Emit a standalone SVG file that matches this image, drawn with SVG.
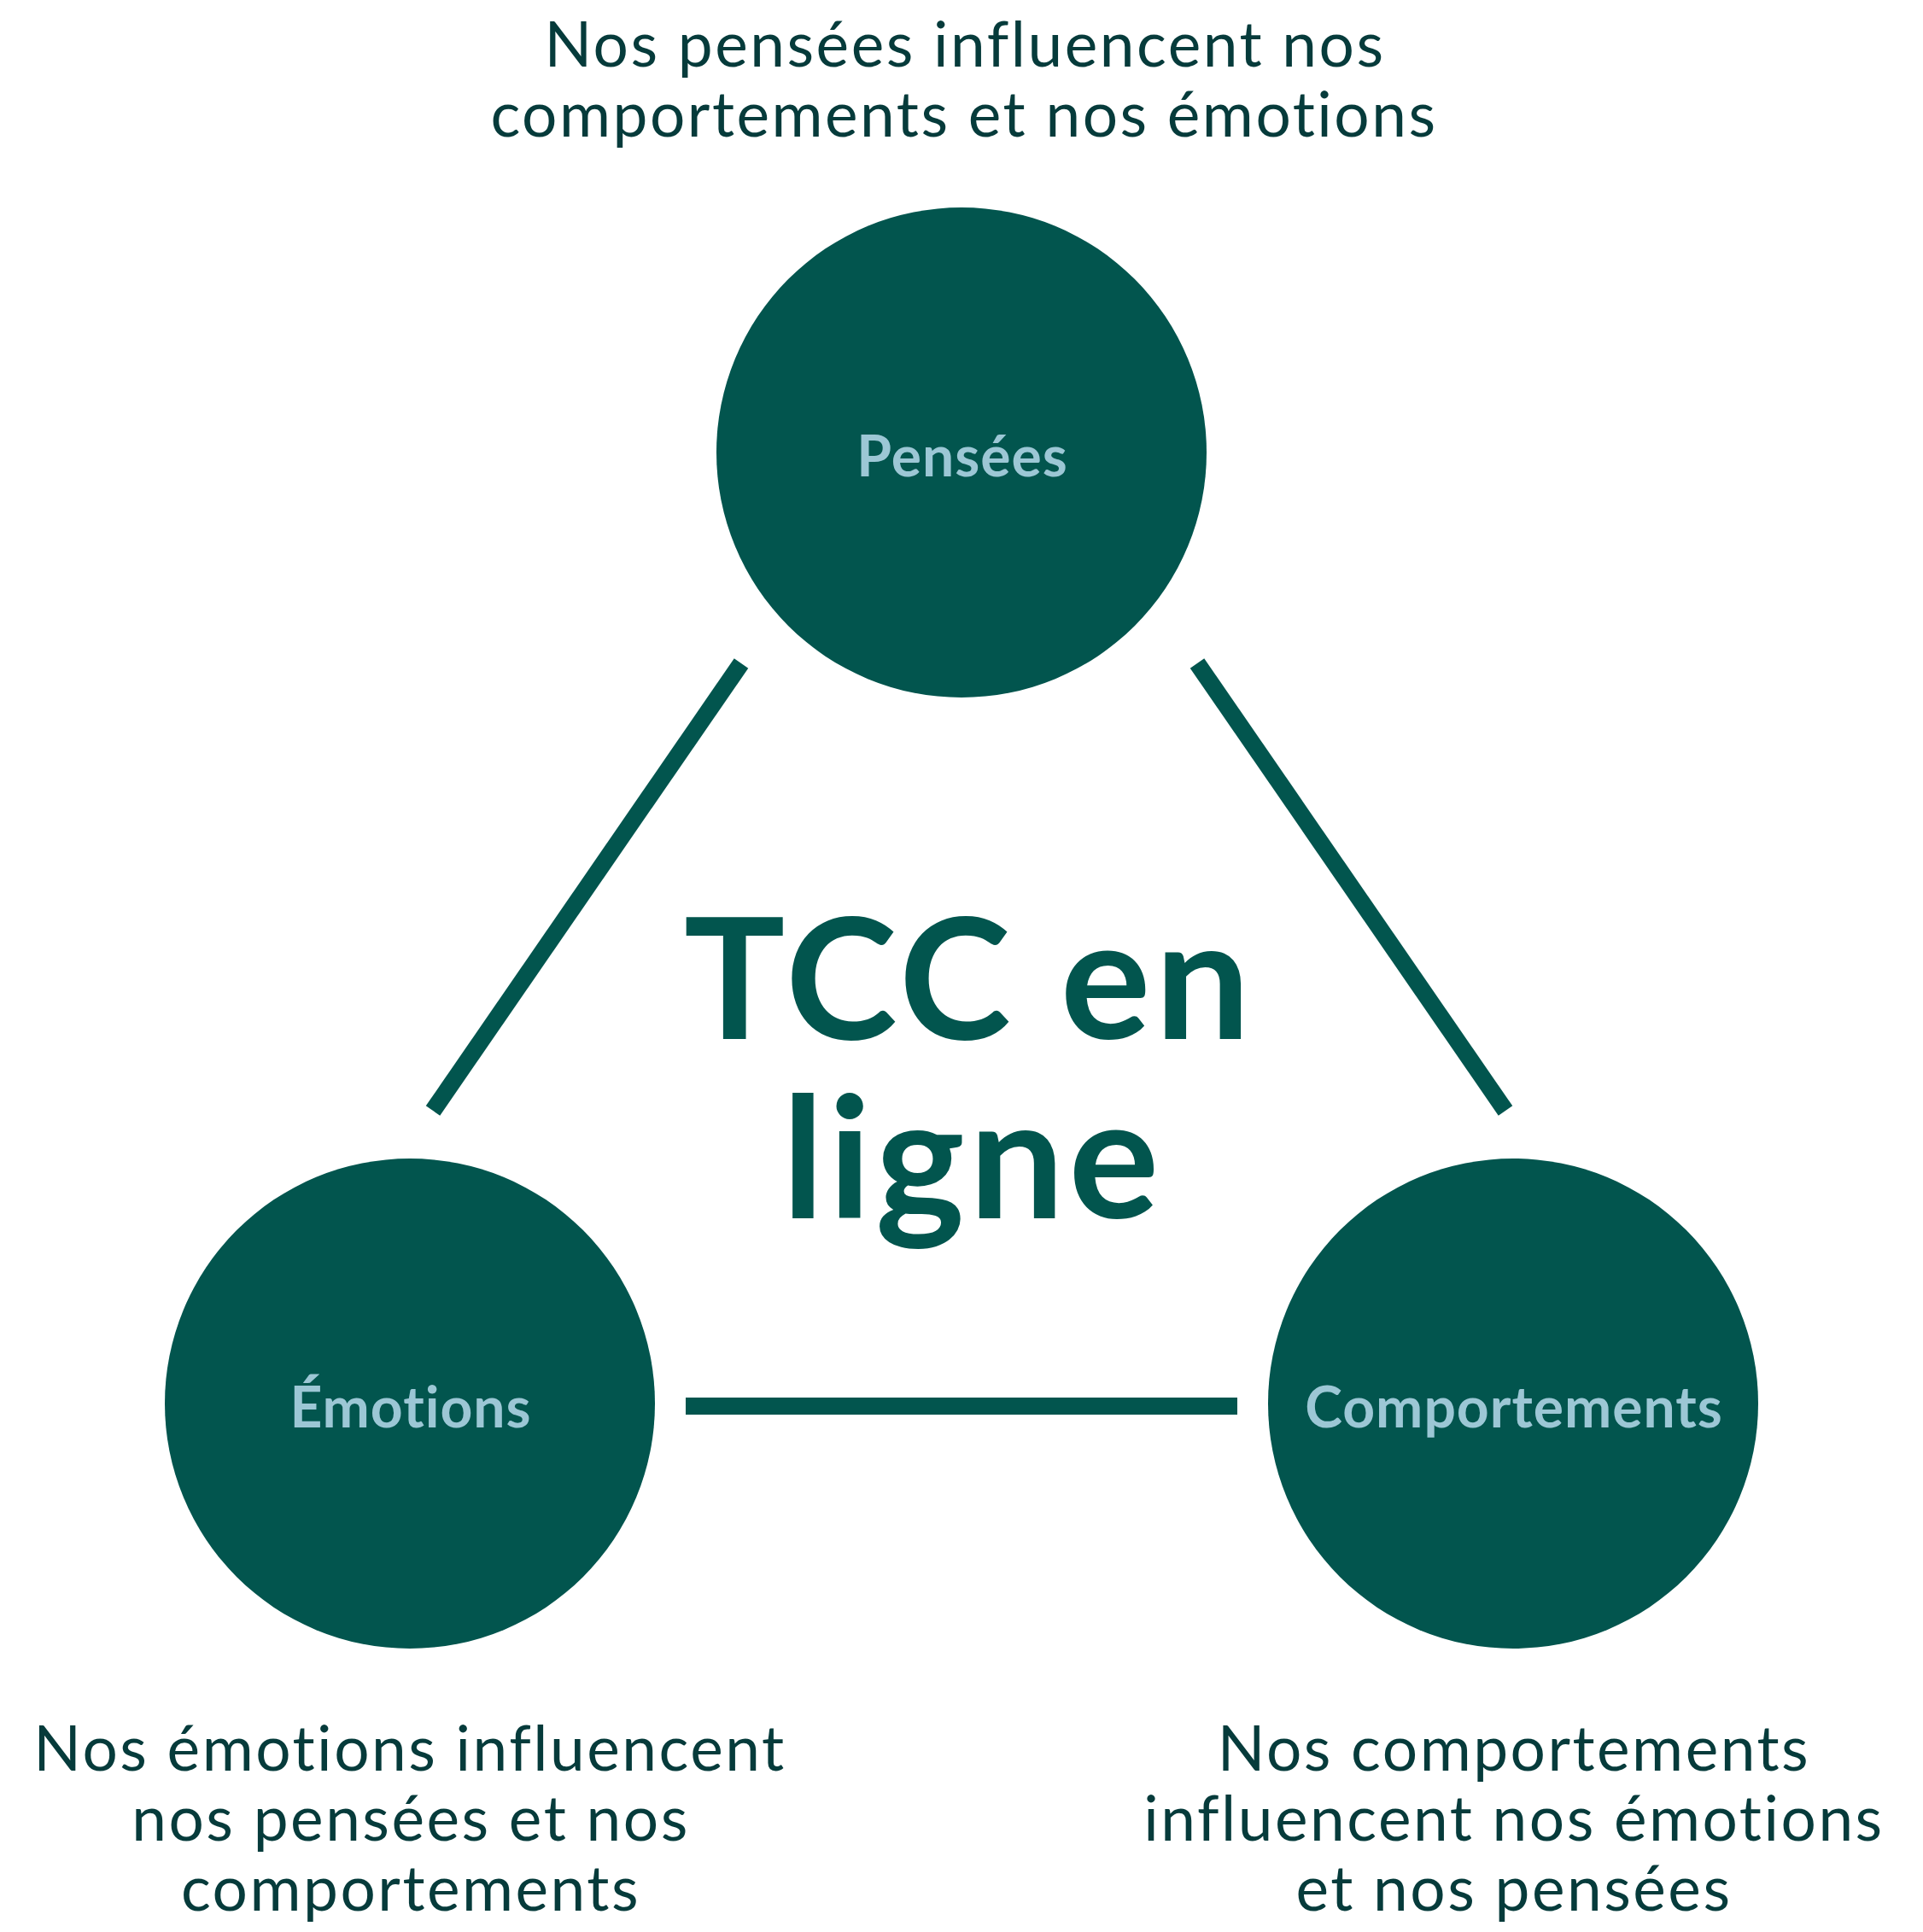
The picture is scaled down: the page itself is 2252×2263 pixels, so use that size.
<svg xmlns="http://www.w3.org/2000/svg" width="2252" height="2263" viewBox="0 0 2252 2263">
<style>
.bg{fill:#ffffff}
.node{fill:#02554E}
text{font-variant-ligatures:none;font-feature-settings:"liga" 0,"dlig" 0}
.lbl{font-family:Lato,"Liberation Sans",sans-serif;font-weight:700;font-size:66px;letter-spacing:1px;fill:#9CC7D5;text-anchor:middle}
.desc{font-family:Lato,"Liberation Sans",sans-serif;font-weight:400;font-size:73px;letter-spacing:2.5px;fill:#063B3B;text-anchor:middle}
.title{font-family:Lato,"Liberation Sans",sans-serif;font-weight:700;font-size:198px;letter-spacing:5px;fill:#02554E;text-anchor:middle}
.edge{stroke:#02554E;stroke-width:20;fill:none;stroke-linecap:butt}
</style>
<rect class="bg" x="0" y="0" width="2252" height="2263"/>
<g id="connectors">
<line class="edge" x1="868" y1="777" x2="507" y2="1301"/>
<line class="edge" x1="1402" y1="777" x2="1763" y2="1301"/>
<line class="edge" x1="803" y1="1647" x2="1449" y2="1647"/>
</g>
<g id="node-pensees">
<circle class="node" cx="1126" cy="530" r="287"/>
<text class="lbl" x="1127" y="558">Pensées</text>
</g>
<g id="node-emotions">
<circle class="node" cx="480" cy="1644" r="287"/>
<text class="lbl" x="481" y="1672">Émotions</text>
</g>
<g id="node-comportements">
<circle class="node" cx="1772" cy="1644" r="287"/>
<text class="lbl" x="1773" y="1672">Comportements</text>
</g>
<g id="title">
<text class="title"><tspan x="1135" y="1217">TCC en</tspan><tspan x="1139" y="1427">ligne</tspan></text>
</g>
<g id="desc-pensees">
<text class="desc"><tspan x="1130" y="78">Nos pensées influencent nos</tspan><tspan x="1129" y="160">comportements et nos émotions</tspan></text>
</g>
<g id="desc-emotions">
<text class="desc"><tspan x="480" y="2074">Nos émotions influencent</tspan><tspan x="481" y="2156">nos pensées et nos</tspan><tspan x="481" y="2238">comportements</tspan></text>
</g>
<g id="desc-comportements">
<text class="desc"><tspan x="1773" y="2074">Nos comportements</tspan><tspan x="1773" y="2156">influencent nos émotions</tspan><tspan x="1773" y="2238">et nos pensées</tspan></text>
</g>
</svg>
